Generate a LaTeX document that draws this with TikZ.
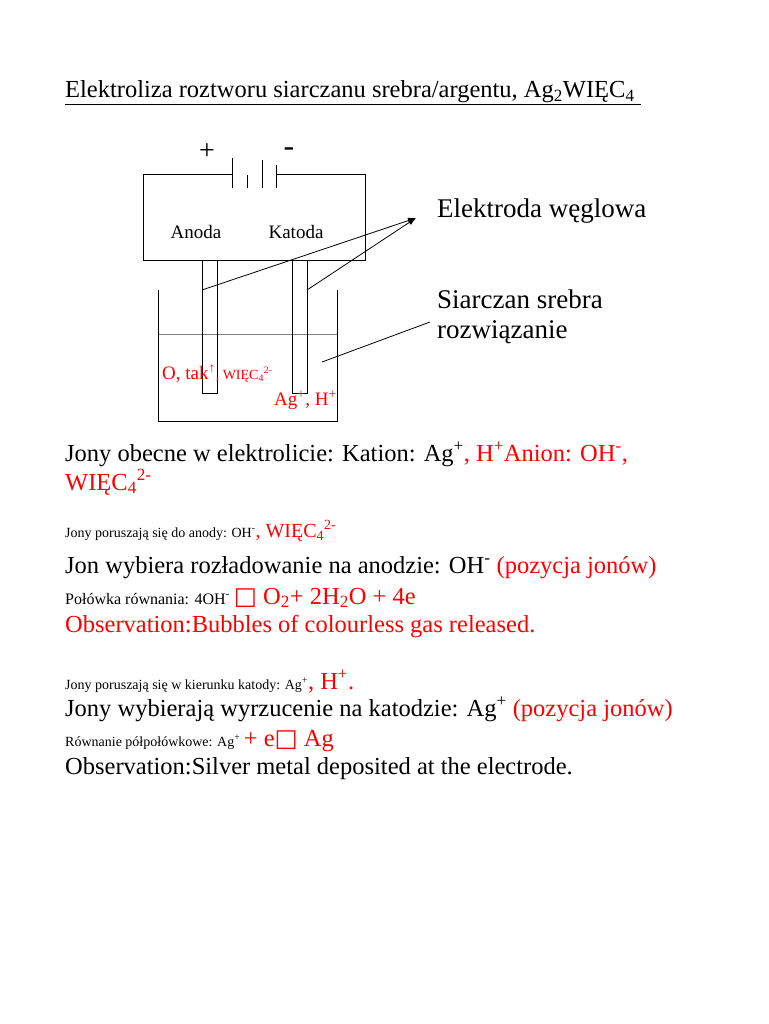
\documentclass[tikz,border=0pt]{standalone}
\usepackage{fontspec}
\setmainfont{Liberation Serif}
\newfontfamily\symfont{DejaVu Sans}
\usepackage{xcolor}
\usetikzlibrary{arrows.meta}
\newcommand{\up}[1]{\textsuperscript{#1}}
\newcommand{\dn}[1]{\textsubscript{#1}}
\newcommand{\sq}{{\symfont\char"25A1}}
\begin{document}
\begin{tikzpicture}[x=1pt, y=-1pt,
  txt/.style={anchor=base west, inner sep=0pt, font=\fontsize{24.5}{26}\selectfont},
  small/.style={anchor=base west, inner sep=0pt, font=\fontsize{14}{16}\selectfont},
  wire/.style={line width=0.9pt},
  lbl/.style={line width=0.8pt}]
\useasboundingbox[fill=white] (0,0) rectangle (768,1024);

% title
\node[txt] (title) at (65,98) {\underline{Elektroliza roztworu siarczanu srebra/argentu, Ag\dn{2}WIĘC\dn{4}\ }};

% circuit
\node[font=\fontsize{28}{28}\selectfont] (plus) at (207,152) {+};
\node[font=\fontsize{32}{32}\selectfont] (minus) at (289,152) {-};
\draw[wire] (232,174) -| (143,260) -- (365,260) |- (276,174) -- (276,165) (276,188) -- (276,174);
\draw[wire] (232,158) -- (232,188);
\draw[wire] (247,175) -- (247,188);
\draw[wire] (262,160) -- (262,188);
\node[small, anchor=base, font=\fontsize{19}{20}\selectfont] (anoda) at (196,239) {Anoda};
\node[small, anchor=base, font=\fontsize{19}{20}\selectfont] (katoda) at (296,239) {Katoda};
% electrodes and beaker
\draw[black!50] (158,334) -- (337,334);
\draw[wire] (158,290) |- (337,421) -- (337,290);
\draw[wire] (202,260) rectangle (217,393);
\draw[wire] (292,260) rectangle (307,393);
\coordinate (ea) at (202,290);
\coordinate (ek) at (307,290);
\coordinate (tip) at (416,218);
\node[txt, font=\fontsize{27}{28}\selectfont] (elek) at (437,218) {Elektroda węglowa};
\draw[lbl, -{Latex[length=8pt,width=6pt]}] (ea) -- (tip);
\draw[lbl, -{Latex[length=8pt,width=6pt]}] (ek) -- (tip);
\node[txt, font=\fontsize{27}{28}\selectfont] (sia) at (437,308) {Siarczan srebra};
\node[txt, font=\fontsize{27}{28}\selectfont] (roz) at (437,338) {rozwiązanie};
\coordinate (sol) at (322,362);
\draw[lbl] (430,322) -- (sol);
\node[small, red, font=\fontsize{19}{20}\selectfont] (ani) at (162,379) {O, tak\up{↑}\fontsize{14}{14}\selectfont, WIĘC\dn{4}\up{2-}};
\node[small, red, font=\fontsize{19}{20}\selectfont] (kat) at (274,405) {Ag\up{+}, H\up{+}};

% text
\node[txt] (l1) at (65,461) {Jony obecne w elektrolicie: Kation: Ag\up{+}\textcolor{red}{, H\up{+}Anion: OH\up{-},}};
\node[txt, red] (l2) at (65,490) {WIĘC\dn{4}\up{2-}};
\node[small] (l3) at (65,537) {Jony poruszają się do anody: OH\up{-}\textcolor{red}{\fontsize{20}{20}\selectfont, WIĘC\dn{4}\up{2-}}};
\node[txt] (l4) at (65,573) {Jon wybiera rozładowanie na anodzie: OH\up{-} \textcolor{red}{(pozycja jonów)}};
\node[small, font=\fontsize{16}{18}\selectfont] (l5) at (65,604) {Połówka równania: 4OH\up{-} \textcolor{red}{\fontsize{24.5}{26}\selectfont\sq\ O\dn{2}+ 2H\dn{2}O + 4e}};
\node[txt, red] (l6) at (65,632) {Observation:Bubbles of colourless gas released.};
\node[small] (l7) at (65,689) {Jony poruszają się w kierunku katody: Ag\up{+}\textcolor{red}{\fontsize{24.5}{26}\selectfont, H\up{+}.}};
\node[txt] (l8) at (65,716) {Jony wybierają wyrzucenie na katodzie: Ag\up{+} \textcolor{red}{(pozycja jonów)}};
\node[small] (l9) at (65,746) {Równanie półpołówkowe: Ag\up{+} \textcolor{red}{\fontsize{24.5}{26}\selectfont+ e\sq\ Ag}};
\node[txt] (l10) at (65,774) {Observation:Silver metal deposited at the electrode.};
\end{tikzpicture}
\end{document}
